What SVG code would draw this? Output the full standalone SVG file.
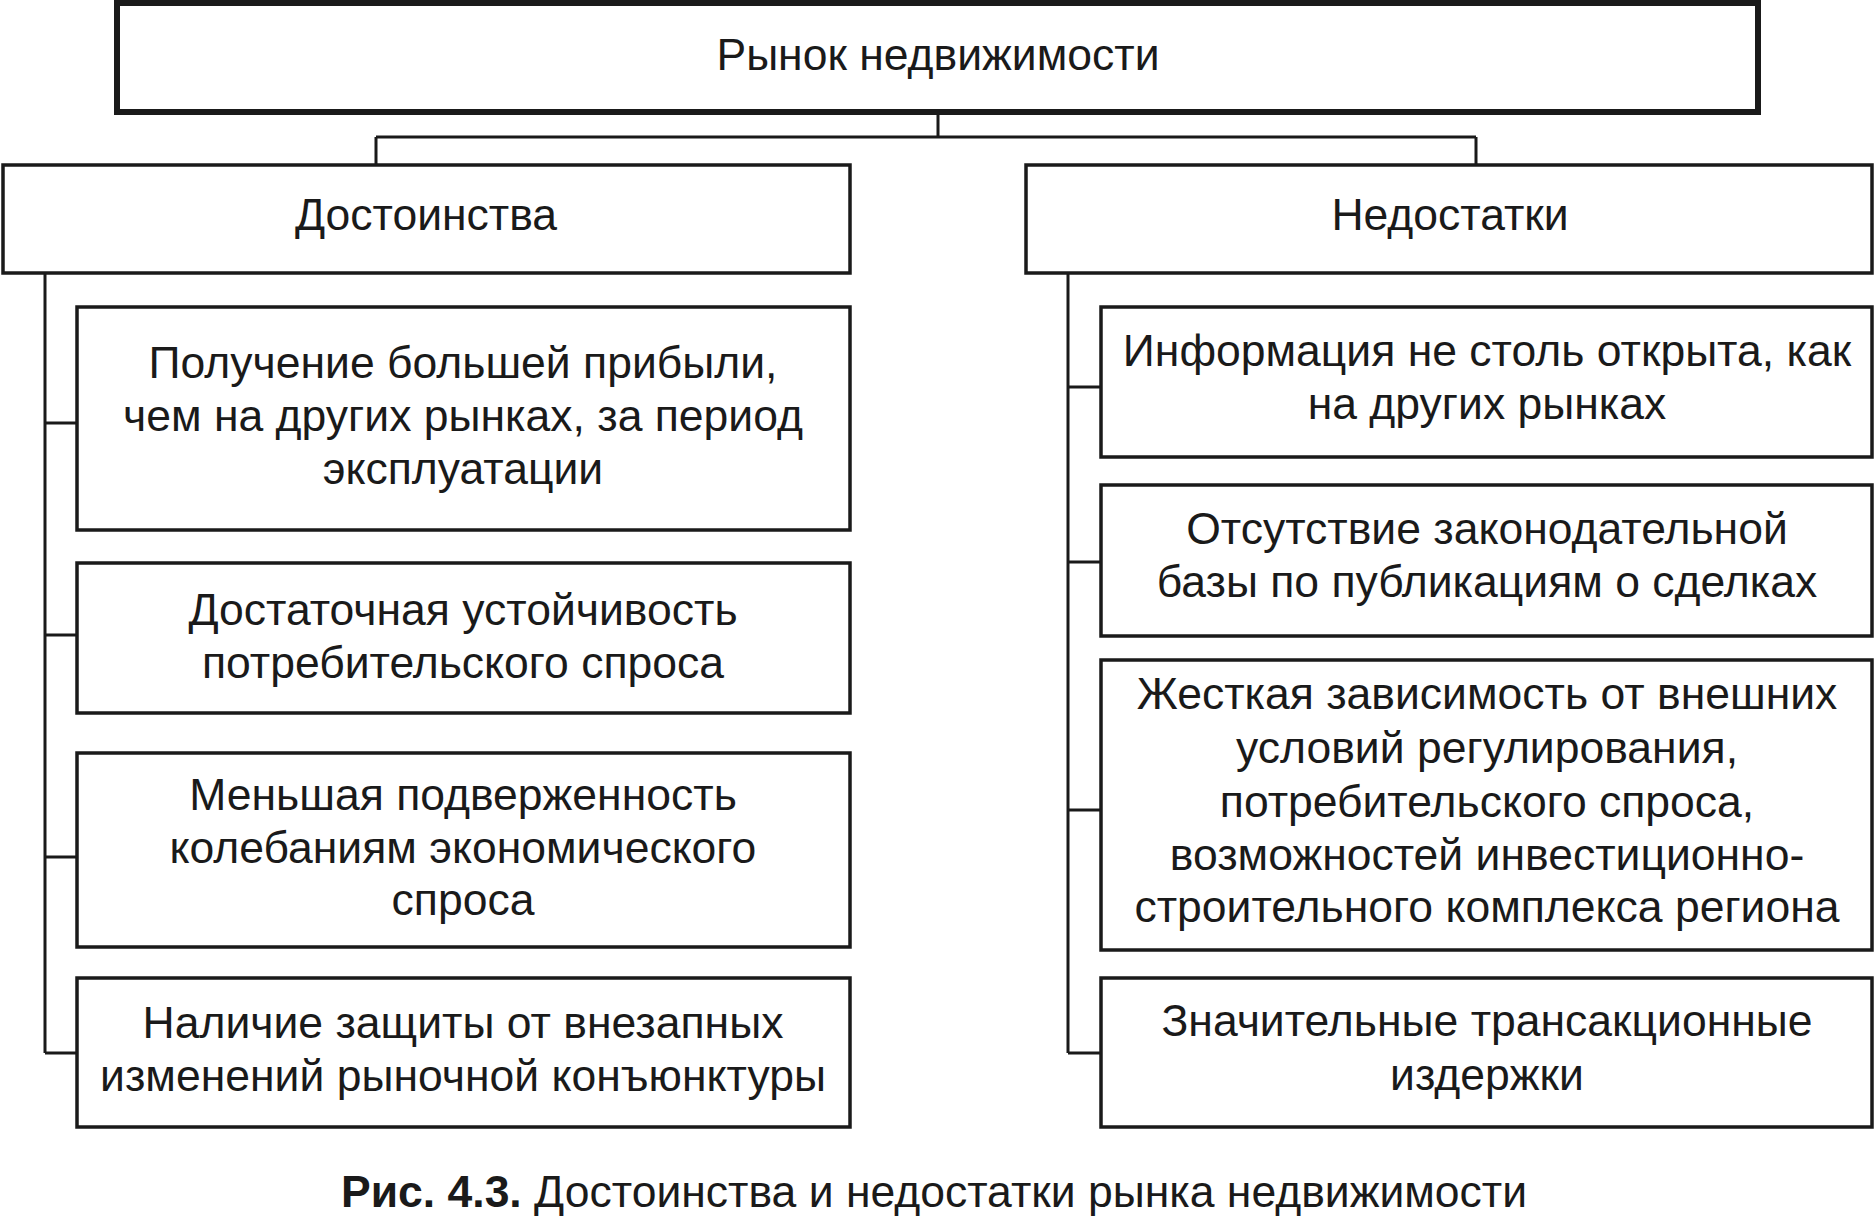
<svg xmlns="http://www.w3.org/2000/svg" width="1876" height="1219" viewBox="0 0 1876 1219">
<style>
.box{fill:#fff;stroke:#1a1a1a;stroke-width:3.5}
.top{fill:#fff;stroke:#1a1a1a;stroke-width:6}
.ln{fill:none;stroke:#1a1a1a;stroke-width:3}
text{font-family:"Liberation Sans",Arial,sans-serif;font-size:44.5px;fill:#1a1a1a;text-anchor:middle}
.cap{font-size:44.5px;text-anchor:start}
</style>
<rect width="1876" height="1219" fill="#fff"/>
<g id="connectors">
<path class="ln" d="M938 112 V137 M376 137 H1476 M376 137 V165 M1476 137 V165"/>
<path class="ln" d="M45 273 V1053 M45 423 H77 M45 635 H77 M45 857 H77 M45 1053 H77"/>
<path class="ln" d="M1068 273 V1053 M1068 387 H1101 M1068 562 H1101 M1068 810 H1101 M1068 1053 H1101"/>
</g>
<g id="root"><rect class="top" x="117" y="3" width="1641" height="109"/><text x="938" y="70">Рынок недвижимости</text></g>
<g id="adv"><rect class="box" x="3" y="165" width="847" height="108"/><text x="426" y="230">Достоинства</text></g>
<g id="dis"><rect class="box" x="1026" y="165" width="846" height="108"/><text x="1450" y="230">Недостатки</text></g>
<g id="a1"><rect class="box" x="77" y="307" width="773" height="223"/><text x="463" y="378">Получение большей прибыли,</text><text x="463" y="431">чем на других рынках, за период</text><text x="463" y="484">эксплуатации</text></g>
<g id="a2"><rect class="box" x="77" y="563" width="773" height="150"/><text x="463" y="625">Достаточная устойчивость</text><text x="463" y="678">потребительского спроса</text></g>
<g id="a3"><rect class="box" x="77" y="753" width="773" height="194"/><text x="463" y="810">Меньшая подверженность</text><text x="463" y="863">колебаниям экономического</text><text x="463" y="915">спроса</text></g>
<g id="a4"><rect class="box" x="77" y="978" width="773" height="149"/><text x="463" y="1038">Наличие защиты от внезапных</text><text x="463" y="1091">изменений рыночной конъюнктуры</text></g>
<g id="d1"><rect class="box" x="1101" y="307" width="771" height="150"/><text x="1487" y="366">Информация не столь открыта, как</text><text x="1487" y="419">на других рынках</text></g>
<g id="d2"><rect class="box" x="1101" y="485" width="771" height="151"/><text x="1487" y="544">Отсутствие законодательной</text><text x="1487" y="597">базы по публикациям о сделках</text></g>
<g id="d3"><rect class="box" x="1101" y="660" width="771" height="290"/><text x="1487" y="709">Жесткая зависимость от внешних</text><text x="1487" y="763">условий регулирования,</text><text x="1487" y="817">потребительского спроса,</text><text x="1487" y="870">возможностей инвестиционно-</text><text x="1487" y="922">строительного комплекса региона</text></g>
<g id="d4"><rect class="box" x="1101" y="978" width="771" height="149"/><text x="1487" y="1036">Значительные трансакционные</text><text x="1487" y="1090">издержки</text></g>
<text class="cap" x="341" y="1207"><tspan font-weight="bold">Рис. 4.3.</tspan> Достоинства и недостатки рынка недвижимости</text>
</svg>
